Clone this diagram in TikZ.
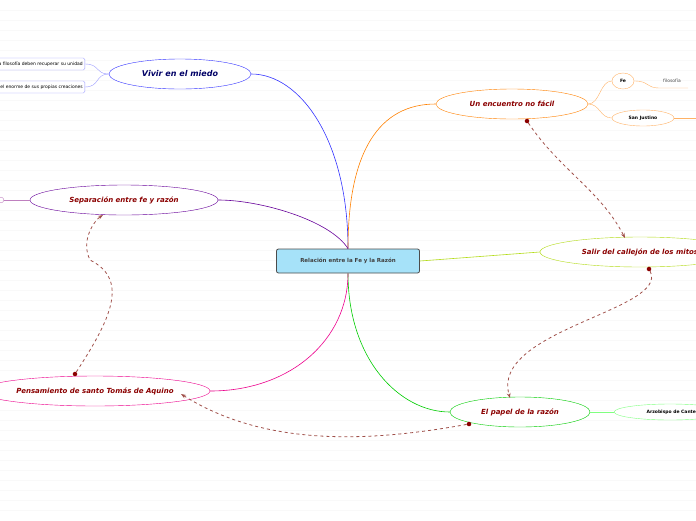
\documentclass[tikz,border=0pt]{standalone}
\usepackage{fontspec}
\setmainfont{DejaVu Sans}
\usetikzlibrary{shapes.geometric,arrows.meta}
\definecolor{dr}{HTML}{8B0000}
\definecolor{lk}{HTML}{A0504A}
\tikzset{
 topic/.style={ellipse,draw,fill=white,inner sep=0pt,font=\bfseries\itshape\fontsize{7}{8}\selectfont,text=dr},
 sub/.style={ellipse,draw,fill=white,inner sep=0pt,font=\bfseries\fontsize{4.5}{5}\selectfont},
 lbox/.style={draw=blue!40,rounded corners=1.5pt,fill=white,font=\fontsize{4.5}{5}\selectfont,inner sep=2pt,minimum height=12pt,anchor=east},
 link/.style={lk,thick,dashed,-{Stealth[length=5pt]}},
 dot/.style={circle,fill=dr,inner sep=1.6pt},
 br/.style={semithick}
}
\begin{document}
\begin{tikzpicture}[x=1pt,y=-1pt]
\useasboundingbox (0,0) rectangle (696,520);
\foreach \y in {10,20,...,510} \draw[gray!5] (0,\y)--(696,\y);
\node[draw=black!70,thick,fill=cyan!35!white,rounded corners=2pt,minimum width=143pt,minimum height=24pt,font=\bfseries\fontsize{5.5}{6}\selectfont,text=black!75] (c) at (348,261) {Relación entre la Fe y la Razón};
\node[topic,draw=blue!80,text=blue!40!black,minimum width=142pt,minimum height=30pt,font=\bfseries\itshape\fontsize{8}{9}\selectfont] (v) at (180,74) {Vivir en el miedo};
\node[topic,draw=orange,minimum width=152pt,minimum height=30pt] (u) at (512,104) {Un encuentro no fácil};
\node[topic,draw=violet!80!blue,minimum width=188pt,minimum height=30pt] (s) at (124,200) {Separación entre fe y razón};
\node[topic,draw=yellow!70!green,minimum width=200pt,minimum height=30pt] (m) at (640,252) {Salir del callejón de los mitos};
\node[topic,draw=green!80!black,minimum width=140pt,minimum height=30pt] (p) at (520,412) {El papel de la razón};
\node[topic,draw=magenta,minimum width=230pt,minimum height=30pt] (t) at (95,391) {Pensamiento de santo Tomás de Aquino};
\node[sub,draw=orange!60,minimum width=22pt,minimum height=16pt] (fe) at (623,81) {Fe};
\node[sub,draw=orange!60,minimum width=62pt,minimum height=16pt] (sj) at (643,118) {San Justino};
\node[sub,draw=green!50,minimum width=100pt,minimum height=16pt,anchor=west] (ar) at (614,412) {\hspace*{16pt}Arzobispo de Canterbury};
\node[font=\fontsize{4.5}{5}\selectfont,text=black!70] (fi) at (672,81) {filosofía};
\node[lbox] (b1) at (85,64) {La fe y la filosofía deben recuperar su unidad};
\node[lbox] (b2) at (85,87) {El hombre es víctima del enorme de sus propias creaciones};
\node[circle,draw=violet!50,inner sep=2pt] (sc) at (1,200) {};
\draw[br,blue!80] (c.north) .. controls (348,140) and (300,74) .. (v.east);
\draw[br,orange] (c.north) .. controls (348,150) and (380,104) .. (u.west);
\draw[br,violet!80!blue] (c.north) .. controls (330,220) and (260,200) .. (s.east);
\draw[br,yellow!70!green] (c.east) -- (m.west);
\draw[br,green!80!black] (c.south) .. controls (348,360) and (400,412) .. (p.west);
\draw[br,magenta] (c.south) .. controls (348,340) and (290,391) .. (t.east);
\draw[blue!40] (v.west) .. controls (95,74) and (100,64) .. (b1.east);
\draw[blue!40] (v.west) .. controls (95,74) and (100,87) .. (b2.east);
\draw[violet!50] (s.west) -- (sc);
\draw[orange!60] (u.east) .. controls (600,104) and (600,81) .. (fe.west);
\draw[orange!60] (u.east) .. controls (600,104) and (600,118) .. (sj.west);
\draw[orange!60] (fe.east) .. controls (650,81) and (645,88) .. (660,88) -- (688,88);
\draw[orange!60] (sj.east) -- (696,118);
\draw[green!50] (p.east) -- (ar.west);
\node[dot] (d1) at (527,121) {};
\node[dot] (d2) at (649,269) {};
\node[dot] (d3) at (469,424) {};
\node[dot] (d4) at (75,374) {};
\draw[link] (d1) .. controls (560,170) and (600,190) .. (625,238);
\draw[link] (d2) .. controls (670,310) and (490,330) .. (510,398);
\draw[link] (d3) .. controls (380,440) and (270,450) .. (181,394);
\draw[link] (d4) .. controls (110,320) and (130,280) .. (90,260) .. controls (80,240) and (95,220) .. (103,215);
\end{tikzpicture}
\end{document}
